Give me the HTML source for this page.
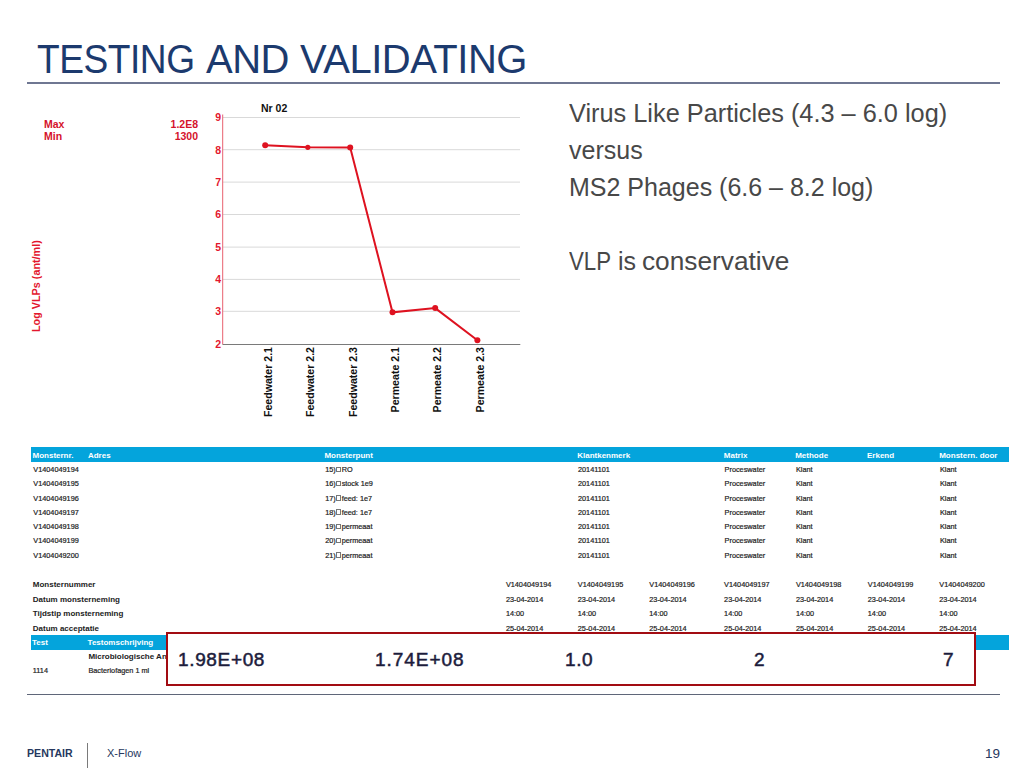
<!DOCTYPE html>
<html><head><meta charset="utf-8">
<style>
html,body{margin:0;padding:0;background:#fff;}
body{width:1024px;height:768px;position:relative;overflow:hidden;font-family:"Liberation Sans",sans-serif;}
.a{position:absolute;white-space:pre;line-height:1;}
.ttl{top:39px;font-size:40px;color:#1c3a6e;letter-spacing:-0.5px;transform-origin:0 0;}
.hr{position:absolute;height:2px;background:#6f7792;}
.body{left:569px;font-size:25px;color:#484848;}
.ft{color:#26385e;}
.cr{color:#d5122c;font-weight:bold;}
.tb{font-size:7.3px;color:#222;-webkit-text-stroke:0.2px #222;}
.th{font-size:8px;color:#fff;font-weight:bold;margin-left:-0.8px;}
.tl{font-size:8px;color:#222;font-weight:bold;}
.sq{display:inline-block;width:4.6px;height:5.4px;border:0.7px solid #777;margin:0 0.8px 0 0.5px;vertical-align:0px;box-sizing:border-box;}
.big{font-weight:normal;font-size:19px;color:#1c1c3c;-webkit-text-stroke:0.5px #1c1c3c;}
.bar{position:absolute;background:#04a4dc;}
</style></head><body>
<div class="a ttl" style="left:37px;transform:scaleX(0.928);">TESTING</div>
<div class="a ttl" style="left:206px;">AND</div>
<div class="a ttl" style="left:300px;transform:scaleX(1.0);">VALIDATING</div>
<div class="hr" style="left:27px;top:82px;width:973px;"></div>

<div class="a body" style="top:101px;transform:scaleX(1.013);transform-origin:0 0;">Virus Like Particles (4.3 – 6.0 log)</div>
<div class="a body" style="top:138px;">versus</div>
<div class="a body" style="top:175px;">MS2 Phages (6.6 – 8.2 log)</div>
<div class="a body" style="left:569px;top:249px;transform:scaleX(0.89);transform-origin:0 0;">VLP</div>
<div class="a body" style="left:618px;top:249px;">is</div>
<div class="a body" style="left:642px;top:249px;transform:scaleX(1.05);transform-origin:0 0;">conservative</div>

<!-- chart -->
<div class="a cr" style="left:44px;top:119px;font-size:10.5px;">Max</div>
<div class="a cr" style="left:44px;top:131px;font-size:10.5px;">Min</div>
<div class="a cr" style="left:150px;width:48px;text-align:right;top:119px;font-size:10.5px;">1.2E8</div>
<div class="a cr" style="left:150px;width:48px;text-align:right;top:131px;font-size:10.5px;">1300</div>
<div class="a" style="left:261px;top:103px;font-size:10.5px;font-weight:bold;color:#111;">Nr 02</div>

<svg class="a" style="left:0;top:0" width="1024" height="768" viewBox="0 0 1024 768">
  <g stroke="#d9d9d9" stroke-width="1">
    <line x1="223" y1="117.5" x2="520" y2="117.5"/>
    <line x1="223" y1="149.7" x2="520" y2="149.7"/>
    <line x1="223" y1="182.1" x2="520" y2="182.1"/>
    <line x1="223" y1="214.5" x2="520" y2="214.5"/>
    <line x1="223" y1="247.1" x2="520" y2="247.1"/>
    <line x1="223" y1="279.4" x2="520" y2="279.4"/>
    <line x1="223" y1="311.3" x2="520" y2="311.3"/>
  </g>
  <line x1="222.7" y1="114.5" x2="222.7" y2="344.5" stroke="#e8606e" stroke-width="1"/>
  <line x1="222.7" y1="344.5" x2="520.3" y2="344.5" stroke="#7a7a7a" stroke-width="1"/>
  <polyline fill="none" stroke="#de1220" stroke-width="2" points="265.2,145.3 307.8,147.3 350.2,147.6 392.5,312.3 435.2,308.1 477.4,340.3"/>
  <g fill="#de1220">
    <circle cx="265.2" cy="145.3" r="3"/>
    <circle cx="307.8" cy="147.3" r="2.6"/>
    <circle cx="350.2" cy="147.6" r="3"/>
    <circle cx="392.5" cy="312.3" r="3"/>
    <circle cx="435.2" cy="308.1" r="3"/>
    <circle cx="477.4" cy="340.3" r="3"/>
  </g>
  <g fill="#e3172e" font-family="Liberation Sans" font-weight="bold" font-size="10.5" text-anchor="end">
    <text x="221" y="121">9</text>
    <text x="221" y="153.5">8</text>
    <text x="221" y="186">7</text>
    <text x="221" y="218.3">6</text>
    <text x="221" y="251">5</text>
    <text x="221" y="283.3">4</text>
    <text x="221" y="315.2">3</text>
    <text x="221" y="348">2</text>
  </g>
  <text x="39.5" y="332" fill="#e3172e" font-family="Liberation Sans" font-weight="bold" font-size="10.8" transform="rotate(-90 39.5 332)">Log VLPs (ant/ml)</text>
  <g fill="#111" font-family="Liberation Sans" font-weight="bold" font-size="10.6" text-anchor="end">
    <text transform="translate(271.7,347) rotate(-90)">Feedwater 2.1</text>
    <text transform="translate(313.9,347) rotate(-90)">Feedwater 2.2</text>
    <text transform="translate(356.7,347) rotate(-90)">Feedwater 2.3</text>
    <text transform="translate(399.3,347) rotate(-90)">Permeate 2.1</text>
    <text transform="translate(441.2,347) rotate(-90)">Permeate 2.2</text>
    <text transform="translate(483.8,347) rotate(-90)">Permeate 2.3</text>
  </g>
</svg>

<!-- table -->
<div class="bar" style="left:31px;top:447px;width:978px;height:15px;"></div>
<div class="bar" style="left:31px;top:634.5px;width:978px;height:15px;"></div>

<div class="a th" style="left:33.3px;top:451.5px;">Monsternr.</div>
<div class="a th" style="left:88.75px;top:451.5px;">Adres</div>
<div class="a th" style="left:325.2px;top:451.5px;">Monsterpunt</div>
<div class="a th" style="left:578px;top:451.5px;">Klantkenmerk</div>
<div class="a th" style="left:724.6px;top:451.5px;">Matrix</div>
<div class="a th" style="left:796px;top:451.5px;">Methode</div>
<div class="a th" style="left:867.8px;top:451.5px;">Erkend</div>
<div class="a th" style="left:940px;top:451.5px;">Monstern. door</div>
<div class="a tb" style="left:33.3px;top:465.9px;">V1404049194</div>
<div class="a tb" style="left:325.2px;top:465.9px;">15)<i class="sq"></i>RO</div>
<div class="a tb" style="left:578px;top:465.9px;">20141101</div>
<div class="a tb" style="left:724.6px;top:465.9px;">Proceswater</div>
<div class="a tb" style="left:796px;top:465.9px;">Klant</div>
<div class="a tb" style="left:940px;top:465.9px;">Klant</div>
<div class="a tb" style="left:33.3px;top:480.4px;">V1404049195</div>
<div class="a tb" style="left:325.2px;top:480.4px;">16)<i class="sq"></i>stock 1e9</div>
<div class="a tb" style="left:578px;top:480.4px;">20141101</div>
<div class="a tb" style="left:724.6px;top:480.4px;">Proceswater</div>
<div class="a tb" style="left:796px;top:480.4px;">Klant</div>
<div class="a tb" style="left:940px;top:480.4px;">Klant</div>
<div class="a tb" style="left:33.3px;top:494.5px;">V1404049196</div>
<div class="a tb" style="left:325.2px;top:494.5px;">17)<i class="sq"></i>feed: 1e7</div>
<div class="a tb" style="left:578px;top:494.5px;">20141101</div>
<div class="a tb" style="left:724.6px;top:494.5px;">Proceswater</div>
<div class="a tb" style="left:796px;top:494.5px;">Klant</div>
<div class="a tb" style="left:940px;top:494.5px;">Klant</div>
<div class="a tb" style="left:33.3px;top:508.5px;">V1404049197</div>
<div class="a tb" style="left:325.2px;top:508.5px;">18)<i class="sq"></i>feed: 1e7</div>
<div class="a tb" style="left:578px;top:508.5px;">20141101</div>
<div class="a tb" style="left:724.6px;top:508.5px;">Proceswater</div>
<div class="a tb" style="left:796px;top:508.5px;">Klant</div>
<div class="a tb" style="left:940px;top:508.5px;">Klant</div>
<div class="a tb" style="left:33.3px;top:522.9px;">V1404049198</div>
<div class="a tb" style="left:325.2px;top:522.9px;">19)<i class="sq"></i>permeaat</div>
<div class="a tb" style="left:578px;top:522.9px;">20141101</div>
<div class="a tb" style="left:724.6px;top:522.9px;">Proceswater</div>
<div class="a tb" style="left:796px;top:522.9px;">Klant</div>
<div class="a tb" style="left:940px;top:522.9px;">Klant</div>
<div class="a tb" style="left:33.3px;top:537.4px;">V1404049199</div>
<div class="a tb" style="left:325.2px;top:537.4px;">20)<i class="sq"></i>permeaat</div>
<div class="a tb" style="left:578px;top:537.4px;">20141101</div>
<div class="a tb" style="left:724.6px;top:537.4px;">Proceswater</div>
<div class="a tb" style="left:796px;top:537.4px;">Klant</div>
<div class="a tb" style="left:940px;top:537.4px;">Klant</div>
<div class="a tb" style="left:33.3px;top:551.8px;">V1404049200</div>
<div class="a tb" style="left:325.2px;top:551.8px;">21)<i class="sq"></i>permeaat</div>
<div class="a tb" style="left:578px;top:551.8px;">20141101</div>
<div class="a tb" style="left:724.6px;top:551.8px;">Proceswater</div>
<div class="a tb" style="left:796px;top:551.8px;">Klant</div>
<div class="a tb" style="left:940px;top:551.8px;">Klant</div>
<div class="a tl" style="left:32.8px;top:581.2px;">Monsternummer</div>
<div class="a tb" style="left:505.9px;top:581.2px;">V1404049194</div>
<div class="a tb" style="left:577.8px;top:581.2px;">V1404049195</div>
<div class="a tb" style="left:649.3px;top:581.2px;">V1404049196</div>
<div class="a tb" style="left:724.1px;top:581.2px;">V1404049197</div>
<div class="a tb" style="left:795.9px;top:581.2px;">V1404049198</div>
<div class="a tb" style="left:867.8px;top:581.2px;">V1404049199</div>
<div class="a tb" style="left:939.3px;top:581.2px;">V1404049200</div>
<div class="a tl" style="left:32.8px;top:595.6px;">Datum monsterneming</div>
<div class="a tb" style="left:505.9px;top:595.6px;">23-04-2014</div>
<div class="a tb" style="left:577.8px;top:595.6px;">23-04-2014</div>
<div class="a tb" style="left:649.3px;top:595.6px;">23-04-2014</div>
<div class="a tb" style="left:724.1px;top:595.6px;">23-04-2014</div>
<div class="a tb" style="left:795.9px;top:595.6px;">23-04-2014</div>
<div class="a tb" style="left:867.8px;top:595.6px;">23-04-2014</div>
<div class="a tb" style="left:939.3px;top:595.6px;">23-04-2014</div>
<div class="a tl" style="left:32.8px;top:610px;">Tijdstip monsterneming</div>
<div class="a tb" style="left:505.9px;top:610px;">14:00</div>
<div class="a tb" style="left:577.8px;top:610px;">14:00</div>
<div class="a tb" style="left:649.3px;top:610px;">14:00</div>
<div class="a tb" style="left:724.1px;top:610px;">14:00</div>
<div class="a tb" style="left:795.9px;top:610px;">14:00</div>
<div class="a tb" style="left:867.8px;top:610px;">14:00</div>
<div class="a tb" style="left:939.3px;top:610px;">14:00</div>
<div class="a tl" style="left:32.8px;top:624.5px;">Datum acceptatie</div>
<div class="a tb" style="left:505.9px;top:624.5px;">25-04-2014</div>
<div class="a tb" style="left:577.8px;top:624.5px;">25-04-2014</div>
<div class="a tb" style="left:649.3px;top:624.5px;">25-04-2014</div>
<div class="a tb" style="left:724.1px;top:624.5px;">25-04-2014</div>
<div class="a tb" style="left:795.9px;top:624.5px;">25-04-2014</div>
<div class="a tb" style="left:867.8px;top:624.5px;">25-04-2014</div>
<div class="a tb" style="left:939.3px;top:624.5px;">25-04-2014</div>
<div class="a th" style="left:32.8px;top:639px;">Test</div>
<div class="a th" style="left:88.4px;top:639px;">Testomschrijving</div>
<div class="a tl" style="left:88.4px;top:652.6px;">Microbiologische Analyse</div>
<div class="a tb" style="left:32.8px;top:667px;">1114</div>
<div class="a tb" style="left:88.4px;top:667px;">Bacteriofagen 1 ml</div>
<!-- red box -->
<div style="position:absolute;left:165.5px;top:631.6px;width:806px;height:50px;border:2px solid #a20c12;background:#fff;"></div>
<div class="a big" style="left:178px;top:650px;letter-spacing:0.65px;">1.98E+08</div>
<div class="a big" style="left:375px;top:650px;letter-spacing:0.95px;">1.74E+08</div>
<div class="a big" style="left:565px;top:650px;letter-spacing:0.6px;">1.0</div>
<div class="a big" style="left:754px;top:650px;">2</div>
<div class="a big" style="left:943px;top:650px;">7</div>

<div class="hr" style="left:27px;top:693.5px;width:973px;height:1.6px;background:#5f6679;"></div>

<!-- footer -->
<div class="a ft" style="left:27px;top:748px;font-size:10.6px;font-weight:bold;">PENTAIR</div>
<div style="position:absolute;left:87px;top:743px;width:1px;height:25px;background:#7a7a7a;"></div>
<div class="a ft" style="left:107px;top:748px;font-size:11px;">X-Flow</div>
<div class="a ft" style="left:985px;top:747px;font-size:13.5px;">19</div>
</body></html>
